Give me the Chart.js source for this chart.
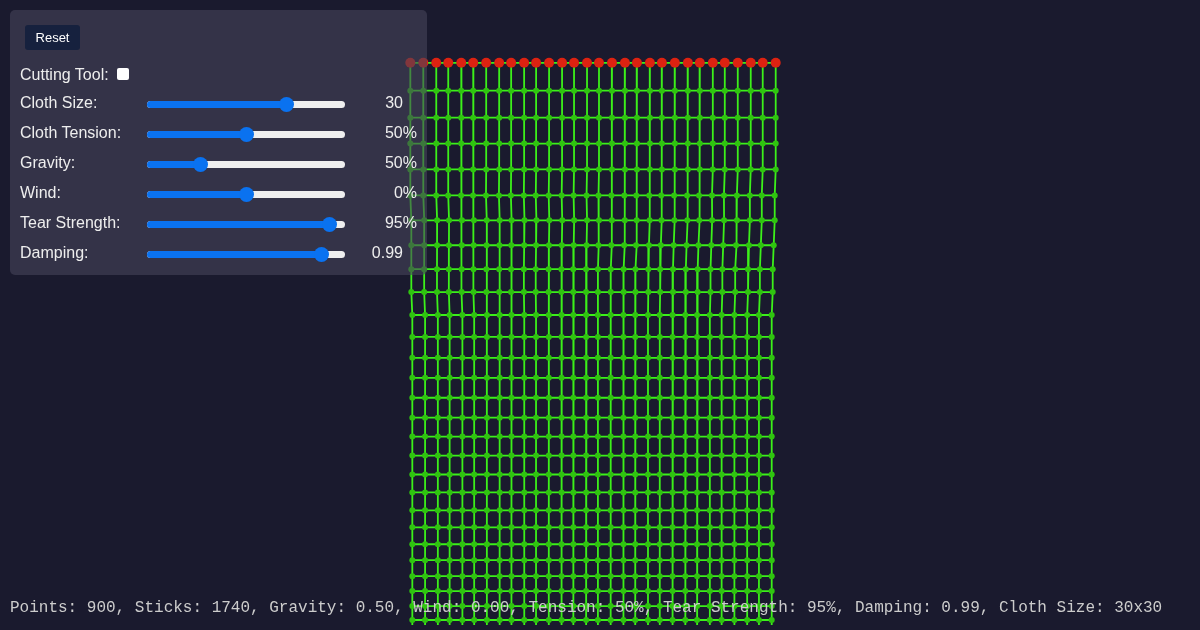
<!DOCTYPE html>
<html><head><meta charset="utf-8">
<script src="https://cdn.jsdelivr.net/npm/chart.js"></script>
<style>
html,body{margin:0;padding:0;background:#1a1a2e;overflow:hidden;font-family:"Liberation Sans",Arial,sans-serif}
#wrap{position:absolute;left:0;top:0;width:1200px;height:630px}
#panel{position:absolute;left:10px;top:10px;width:417px;height:265px;background:rgba(70,68,90,0.6);border-radius:5px;color:#eee;font-size:16px}
#panel button{position:absolute;left:15px;top:15px;width:55px;height:25px;background:#16213e;color:#fff;border:none;border-radius:3px;font-size:13px}
.row{position:absolute;left:10px;height:20px}
.lbl{position:absolute;left:0;white-space:nowrap}
.val{position:absolute;left:310px;width:73px;text-align:right}
.sl{position:absolute;left:127px;top:7px;width:198px;height:7px;background:#efefef;border-radius:4px}
.fill{position:absolute;left:0;top:0;height:7px;background:#0a72f0;border-radius:4px}
.knob{position:absolute;top:-4px;width:15px;height:15px;margin-left:-7px;background:#0a72f0;border-radius:50%}
#cb{position:absolute;left:107px;top:58px;width:12px;height:12px;background:#fff;border-radius:2px}
#stats{position:absolute;left:10px;top:599px;color:#ccc;font-family:"Liberation Mono",monospace;font-size:16px;white-space:nowrap}
</style></head>
<body><div id="wrap"><canvas id="c" width="1200" height="630"></canvas>
<div id="panel"><button>Reset</button>
<div class="row" style="top:56px"><span class="lbl">Cutting Tool:</span></div><div id="cb"></div>
</div>
<div id="stats">Points: 900, Sticks: 1740, Gravity: 0.50, Wind: 0.00, Tension: 50%, Tear Strength: 95%, Damping: 0.99, Cloth Size: 30x30</div>
</div>
<script>
// Slider rows: label, value text, knob fraction
const sliderLabels = ["Cloth Size:", "Cloth Tension:", "Gravity:", "Wind:", "Tear Strength:", "Damping:"];
const sliderValues = ["30", "50%", "50%", "0%", "95%", "0.99"];
const sliderPos = [0.70, 0.50, 0.27, 0.50, 0.92, 0.88];
const valueShift = [0, 14, 14, 14, 14, 0];

// Cloth grid (pixel coords)
const colX = [410,423,436,448,461,473,486,499,511,524,536,549,562,574,587,599,612,625,637,650,662,675,688,700,713,725,738,751,763,776];
const rowY = [62,90,117,143,169,195,220,245,269,292,315,337,358,378,398,418,437,456,475,493,511,528,545,561,577,592,607,621,634,647];
// right edge pulls in slightly on lower rows
const rightEdge = [776,776,776,776,776,775,775,774,773,773,772,772,772,772,772,772,772,772,772,772,772,772,772,772,772,772,772,772,772,772];
const leftEdge = [410,410,410,410,410,410,411,411,411,411,412,412,412,412,412,412,412,412,412,412,412,412,412,412,412,412,412,412,412,412];

const panel = document.getElementById("panel");
sliderLabels.forEach((l, i) => {
  const top = 84 + i * 30;
  const d = document.createElement("div");
  d.className = "row";
  d.style.top = top + "px";
  d.style.width = "400px";
  d.innerHTML = `<span class="lbl">${l}</span><div class="sl"><div class="fill" style="width:${sliderPos[i]*100}%"></div><div class="knob" style="left:${sliderPos[i]*100}%"></div></div><span class="val" style="margin-left:${valueShift[i]}px">${sliderValues[i]}</span>`;
  panel.appendChild(d);
});

function px(r, c) {
  const l = leftEdge[r], rr = rightEdge[r];
  return l + (colX[c] - colX[0]) * (rr - l) / (colX[29] - colX[0]);
}

const datasets = [];
const green = "#3cf01a";
for (let r = 0; r < rowY.length; r++) {
  datasets.push({
    data: colX.map((x, c) => ({ x: px(r, c), y: rowY[r] })),
    showLine: true, borderColor: green, borderWidth: 1.8,
    pointRadius: r === 0 ? 5 : 3,
    pointBackgroundColor: r === 0 ? "#dd2211" : "#2fc40f",
    pointBorderWidth: 0, order: r === 0 ? 0 : 1
  });
}
for (let c = 0; c < colX.length; c++) {
  datasets.push({
    data: rowY.map((y, r) => ({ x: px(r, c), y: y })),
    showLine: true, borderColor: green, borderWidth: 1.8, pointRadius: 0, order: 2
  });
}

new Chart(document.getElementById("c"), {
  type: "scatter",
  data: { datasets: datasets },
  options: {
    responsive: false, animation: false,
    layout: { padding: 0 },
    plugins: { legend: { display: false }, tooltip: { enabled: false } },
    scales: {
      x: { type: "linear", min: 4, max: 1196, display: false },
      y: { type: "linear", min: 4, max: 626, reverse: true, display: false }
    }
  }
});
</script></body></html>
